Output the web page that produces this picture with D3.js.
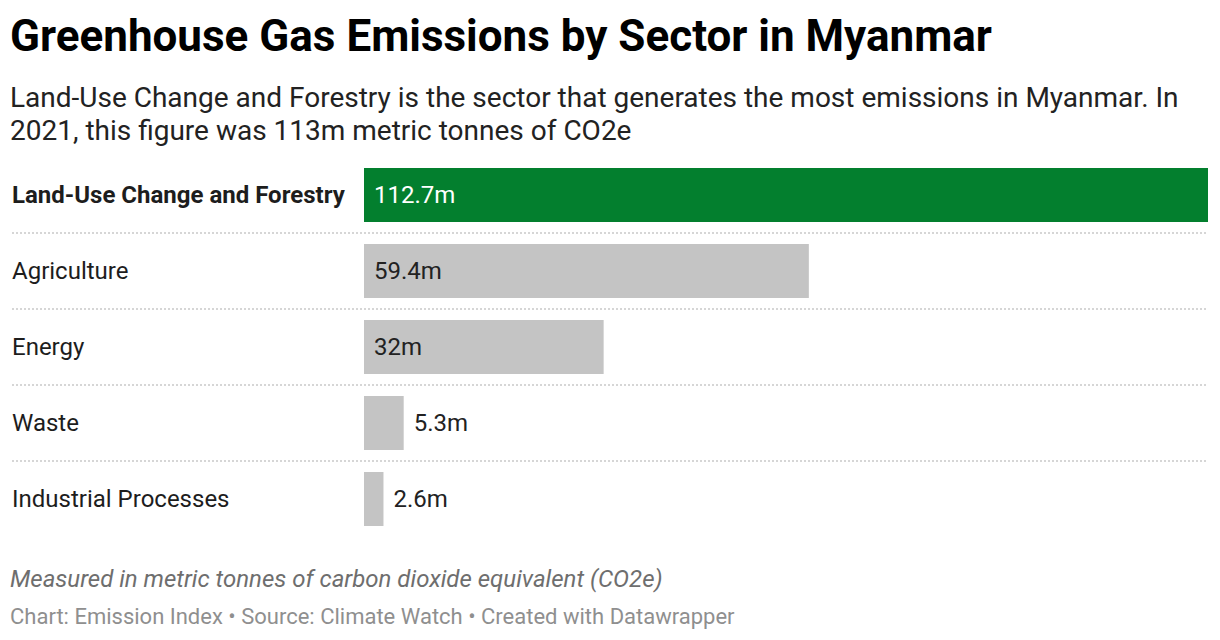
<!DOCTYPE html>
<html>
<head>
<meta charset="utf-8">
<script src="https://cdn.jsdelivr.net/npm/d3@7"></script>
<style>
  body { margin: 0; background: #fff; font-family: Roboto, sans-serif; }
</style>
</head>
<body>
<div id="chart"></div>
<script>
const sectors = ['Land-Use Change and Forestry', 'Agriculture', 'Energy', 'Waste', 'Industrial Processes'];
const emissions = [112.7, 59.4, 32, 5.3, 2.6];
const highlight = 'Land-Use Change and Forestry';

const width = 1220, height = 640;
const svg = d3.select('#chart').append('svg')
  .attr('width', width).attr('height', height)
  .style('font-family', 'Roboto, sans-serif');

svg.append('text').attr('x', 10).attr('y', 51)
  .attr('font-size', 44).attr('font-weight', 700).attr('fill', '#000')
  .text('Greenhouse Gas Emissions by Sector in Myanmar');

const sub = ['Land-Use Change and Forestry is the sector that generates the most emissions in Myanmar. In',
  '2021, this figure was 113m metric tonnes of CO2e'];
svg.selectAll('text.sub').data(sub).join('text').attr('class', 'sub')
  .attr('x', 10).attr('y', (d, i) => 107 + i * 33)
  .attr('font-size', 28).attr('fill', '#222').text(d => d);

const x = d3.scaleLinear().domain([0, d3.max(emissions)]).range([364, 1208]);
const y = d3.scaleBand().domain(sectors).range([168, 526]).paddingInner(22 / 76).paddingOuter(0);

const rows = sectors.map((s, i) => ({ name: s, value: emissions[i] }));

// dotted separators
svg.selectAll('line.sep').data(sectors.slice(1)).join('line').attr('class', 'sep')
  .attr('x1', 12).attr('x2', 1208)
  .attr('y1', d => y(d) - 11).attr('y2', d => y(d) - 11)
  .attr('stroke', '#d6d6d6').attr('stroke-width', 2).attr('stroke-dasharray', '2,2');

svg.selectAll('rect.bar').data(rows).join('rect').attr('class', 'bar')
  .attr('x', x(0)).attr('y', d => y(d.name))
  .attr('width', d => x(d.value) - x(0)).attr('height', y.bandwidth())
  .attr('fill', d => d.name === highlight ? '#037f2e' : '#c4c4c4');

svg.selectAll('text.cat').data(rows).join('text').attr('class', 'cat')
  .attr('x', 12).attr('y', d => y(d.name) + y.bandwidth() / 2)
  .attr('dy', '0.35em').attr('font-size', 24)
  .attr('font-weight', d => d.name === highlight ? 700 : 400)
  .attr('fill', '#1d1d1d').text(d => d.name);

const fmt = v => v + 'm';
svg.selectAll('text.val').data(rows).join('text').attr('class', 'val')
  .attr('x', d => (x(d.value) - x(0) > 80) ? x(0) + 10 : x(d.value) + 10)
  .attr('y', d => y(d.name) + y.bandwidth() / 2)
  .attr('dy', '0.35em').attr('font-size', 24)
  .attr('fill', d => d.name === highlight ? '#fff' : '#222')
  .text(d => fmt(d.value));

svg.append('text').attr('x', 10).attr('y', 587)
  .attr('font-size', 24).attr('font-style', 'italic').attr('fill', '#6e6e6e')
  .text('Measured in metric tonnes of carbon dioxide equivalent (CO2e)');

svg.append('text').attr('x', 10).attr('y', 624)
  .attr('font-size', 22).attr('fill', '#8f8f8f')
  .text('Chart: Emission Index \u2022 Source: Climate Watch \u2022 Created with Datawrapper');
</script>
</body>
</html>
